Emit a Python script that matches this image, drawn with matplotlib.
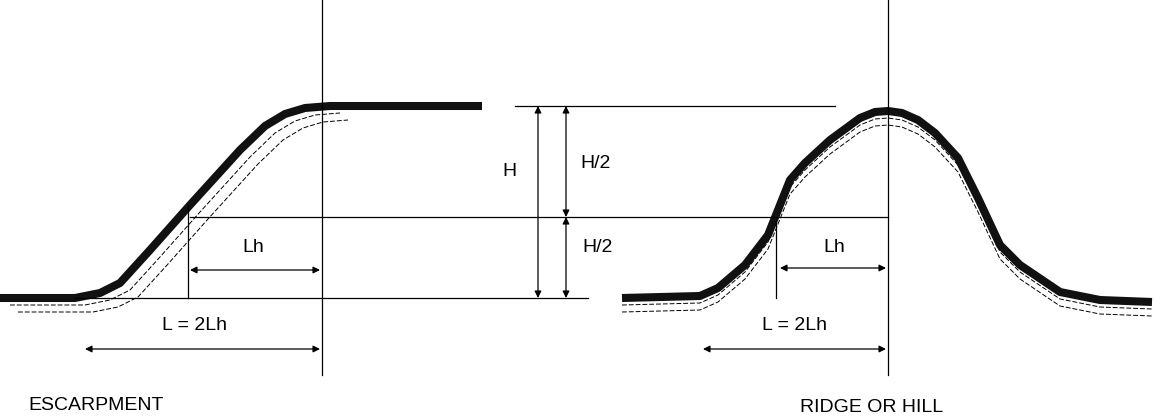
import matplotlib
matplotlib.use("Agg")
import matplotlib.pyplot as plt
import numpy as np

esc_x = [0, 75, 100, 120, 150, 190, 240, 265, 285, 305, 330, 482]
esc_y = [298, 298, 293, 283, 250, 205, 150, 126, 114, 108, 106, 106]
hill_x = [622, 700, 718, 745, 768, 778, 790, 805, 830, 860, 875, 888, 902, 918, 935, 958, 978, 1000, 1020, 1060, 1100, 1152]
hill_y = [298, 296, 288, 265, 235, 210, 180, 163, 140, 118, 112, 111, 113, 120, 133, 158, 198, 245, 265, 292, 300, 302]

fig = plt.figure(figsize=(11.54, 4.18), dpi=100)
ax = fig.add_axes([0, 0, 1, 1])
ax.set_xlim(0, 1154)
ax.set_ylim(418, 0)
ax.axis('off')

k = dict(color='black', lw=0.9)
for dx, dy in [(10, 7), (18, 14)]:
    ax.plot(np.array(esc_x[:-1]) + dx, np.array(esc_y[:-1]) + dy, ls=(0, (5, 2)), color='black', lw=0.7)
    ax.plot(np.array(hill_x), np.array(hill_y) + dy, ls=(0, (5, 2)), color='black', lw=0.7)

ax.plot(esc_x, esc_y, color='#111', lw=5.8, solid_capstyle='butt', solid_joinstyle='round')
ax.plot(hill_x, hill_y, color='#111', lw=5.8, solid_capstyle='butt', solid_joinstyle='round')

ax.plot([322, 322], [0, 375], **k)
ax.plot([888, 888], [0, 375], **k)
ax.plot([515, 835], [106, 106], **k)
ax.plot([190, 888], [217, 217], **k)
ax.plot([75, 588], [298, 298], **k)
ax.plot([188, 188], [205, 298], **k)
ax.plot([776, 776], [220, 298], **k)

def arrow(x0, y0, x1, y1):
    ax.annotate('', xy=(x1, y1), xytext=(x0, y0),
                arrowprops=dict(arrowstyle='<|-|>', color='black', lw=0.9,
                                mutation_scale=10, shrinkA=0, shrinkB=0))

arrow(190, 270, 320, 270)
arrow(85, 349, 320, 349)
arrow(780, 268, 886, 268)
arrow(703, 349, 886, 349)
arrow(538, 106, 538, 298)
arrow(566, 106, 566, 217)
arrow(566, 217, 566, 298)

f = dict(fontsize=14, family='Liberation Sans', ha='center', va='center')
ax.text(509, 172, 'H', **f)
ax.text(596, 163, 'H/2', **f)
ax.text(598, 248, 'H/2', **f)
ax.text(253, 248, 'Lh', **f)
ax.text(834, 248, 'Lh', **f)
ax.text(195, 326, 'L = 2Lh', **f)
ax.text(795, 326, 'L = 2Lh', **f)
ax.text(96, 405, 'ESCARPMENT', **f)
ax.text(872, 407, 'RIDGE OR HILL', **f)

fig.savefig('out.png', dpi=100)
